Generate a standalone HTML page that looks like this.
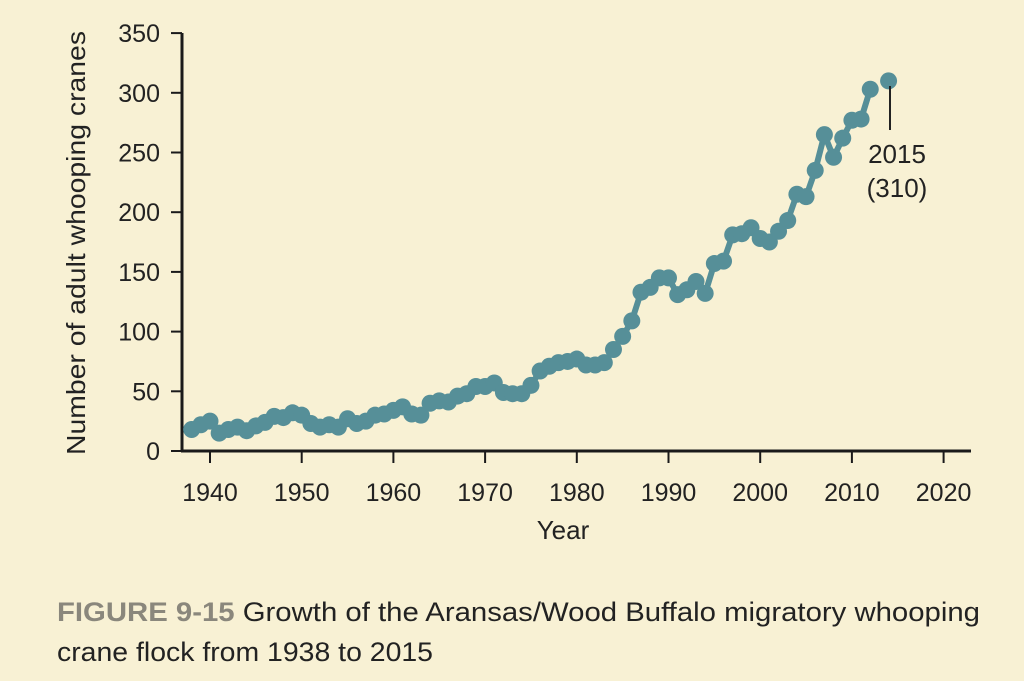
<!DOCTYPE html>
<html><head><meta charset="utf-8"><style>
body{margin:0;background:#f8f1d4;}
svg{display:block;font-family:"Liberation Sans",sans-serif;}
</style></head><body>
<svg id="chart" width="1024" height="681">
<rect width="1024" height="681" fill="#f8f1d4"/>
<g id="axes"></g>
<g id="series"></g>
<line x1="890" y1="86" x2="890" y2="130" stroke="#222" stroke-width="2"/>
<text x="897" y="163" font-size="26" fill="#222" text-anchor="middle">2015</text>
<text x="897" y="197" font-size="26" fill="#222" text-anchor="middle">(310)</text>
<text x="563" y="539" font-size="26" fill="#222" text-anchor="middle">Year</text>
<text transform="translate(85,243) rotate(-90)" font-size="26" fill="#222" text-anchor="middle" textLength="424" lengthAdjust="spacingAndGlyphs">Number of adult whooping cranes</text>
<text x="57" y="621" font-size="27" fill="#222" textLength="923" lengthAdjust="spacingAndGlyphs"><tspan font-weight="bold" fill="#8a877c">FIGURE 9-15</tspan>  Growth of the Aransas/Wood Buffalo migratory whooping</text>
<text x="57" y="661" font-size="27" fill="#222" textLength="376" lengthAdjust="spacingAndGlyphs">crane flock from 1938 to 2015</text>
</svg>
<script>
const years=[1938,1939,1940,1941,1942,1943,1944,1945,1946,1947,1948,1949,1950,1951,1952,1953,1954,1955,1956,1957,1958,1959,1960,1961,1962,1963,1964,1965,1966,1967,1968,1969,1970,1971,1972,1973,1974,1975,1976,1977,1978,1979,1980,1981,1982,1983,1984,1985,1986,1987,1988,1989,1990,1991,1992,1993,1994,1995,1996,1997,1998,1999,2000,2001,2002,2003,2004,2005,2006,2007,2008,2009,2010,2011,2012,2014];
const cranes=[18,22,25,15,18,20,17,21,24,29,28,32,30,23,20,22,20,27,23,25,30,31,34,37,31,30,40,42,41,46,48,54,54,57,49,48,48,55,67,71,74,75,77,72,72,74,85,96,109,133,137,145,145,131,135,142,132,157,159,181,182,187,178,175,184,193,215,213,235,265,246,262,277,278,303,310];
const xTicks=[1940,1950,1960,1970,1980,1990,2000,2010,2020];
const yTicks=[0,50,100,150,200,250,300,350];
const NS="http://www.w3.org/2000/svg";
const X=y=>210+(y-1940)*9.17;
const Y=v=>451-v*1.194;
function mk(tag,attrs,parent){const e=document.createElementNS(NS,tag);for(const k in attrs)e.setAttribute(k,attrs[k]);parent.appendChild(e);return e;}
const ax=document.getElementById('axes');
let l=mk('line',{x1:182,y1:33,x2:182,y2:452,stroke:'#1a1a1a','stroke-width':3},ax);


l=mk('line',{x1:181,y1:451,x2:971,y2:451,stroke:'#1a1a1a','stroke-width':3},ax);


yTicks.forEach(v=>{
 const t=mk('line',{x1:171,y1:Y(v),x2:182,y2:Y(v),stroke:'#1a1a1a','stroke-width':2},ax);
 
 
 const tx=mk('text',{x:160,y:Y(v)+9,'font-size':25,fill:'#222','text-anchor':'end'},ax);tx.textContent=v;
 
 
});
xTicks.forEach(v=>{
 const t=mk('line',{x1:X(v),y1:451,x2:X(v),y2:463,stroke:'#1a1a1a','stroke-width':2},ax);
 
 
 const tx=mk('text',{x:X(v),y:501,'font-size':25,fill:'#222','text-anchor':'middle'},ax);tx.textContent=v;
 
 
});
const sg=document.getElementById('series');
const pts=years.map((y,i)=>X(y)+','+Y(cranes[i]));
const pl=mk('polyline',{points:pts.slice(0,-1).join(' '),fill:'none',stroke:'#568f98','stroke-width':6,'stroke-linejoin':'round'},sg);


years.forEach((y,i)=>{
 const c=mk('circle',{cx:X(y),cy:Y(cranes[i]),r:8.5,fill:'#568f98'},sg);
 
 
});
</script>
</body></html>
